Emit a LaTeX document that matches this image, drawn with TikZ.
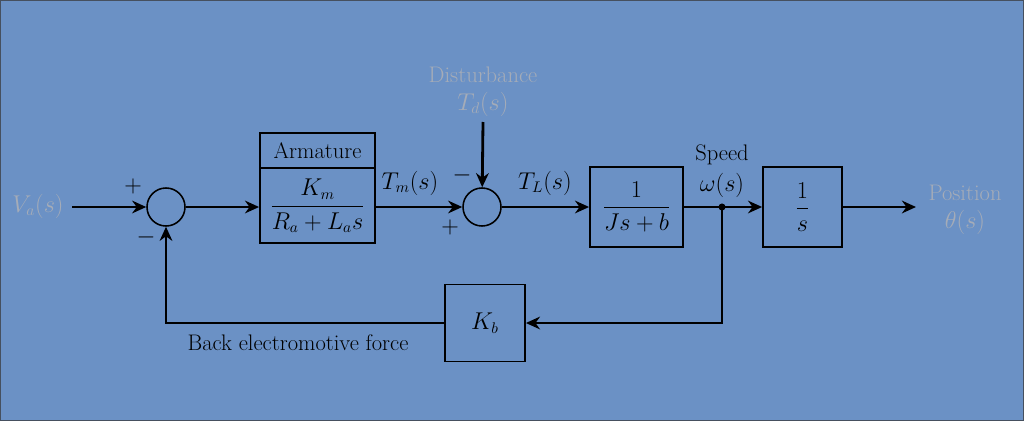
\documentclass[tikz,border=0pt]{standalone}
\usepackage{amsmath}
\usetikzlibrary{arrows.meta}
\definecolor{bg}{RGB}{107,145,197}
\definecolor{gtext}{RGB}{165,172,184}
\definecolor{frame}{RGB}{70,80,95}
\begin{document}
\begin{tikzpicture}[x=0.025cm,y=-0.025cm,
  sig/.style={line width=2pt,-{Stealth[length=10pt,width=9pt]}},
  blk/.style={draw,line width=1.3pt,inner sep=0pt},
  sum/.style={draw,circle,line width=1.1pt,minimum size=0.95cm,inner sep=0pt},
  lab/.style={font=\fontsize{16}{19}\selectfont},
  glab/.style={font=\fontsize{16}{19}\selectfont,text=gtext}]
\useasboundingbox (0,0) rectangle (1024,421);
\fill[bg,draw=frame,line width=1pt] (0.5,0.5) rectangle (1023.5,420.5);
% nodes
\node[glab] (va) at (38,206) {$V_a(s)$};
\node[sum] (s1) at (166,207) {};
\node[blk,minimum width=2.875cm,minimum height=2.75cm] (arm) at (317.5,188) {};
\node[blk,minimum width=2.875cm,minimum height=0.875cm,anchor=north] (armh) at (arm.north) {};
\node[lab] at (armh) {Armature};
\node[lab] at (317.5,206) {$\dfrac{K_m}{R_a+L_as}$};
\node[sum] (s2) at (482,207) {};
\node[glab] (dist) at (483,75) {Disturbance};
\node[glab] (td) at (483,104) {$T_d(s)$};
\coordinate (tdtop) at (483,122);
\node[blk,minimum width=2.325cm,minimum height=2cm] (g1) at (636.5,207) {\fontsize{16}{19}\selectfont$\dfrac{1}{Js+b}$};
\node[blk,minimum width=1.975cm,minimum height=2cm] (g2) at (802.5,207) {\fontsize{16}{19}\selectfont$\dfrac{1}{s}$};
\coordinate (br) at (722,207);
\fill (br) circle (2.5pt);
\coordinate (out) at (916,207);
\node[glab] at (965,193) {Position};
\node[glab] at (965,222) {$\theta(s)$};
\node[blk,minimum width=2cm,minimum height=1.925cm] (kb) at (485,323) {\fontsize{16}{19}\selectfont$K_b$};
\coordinate (c1) at (722,323);
\coordinate (c2) at (166,323);
\coordinate (ain) at (arm.west |- s1);
\coordinate (aout) at (arm.east |- s1);
% labels
\node[lab] at (410,183) {$T_m(s)$};
\node[lab] at (545,183) {$T_L(s)$};
\node[lab] at (722,155) {Speed};
\node[lab] at (722,185) {$\omega(s)$};
\node[lab] at (298,343) {Back electromotive force};
\node[lab] at (133,186) {$+$};
\node[lab] at (146,237) {$-$};
\node[lab] at (462,175) {$-$};
\node[lab] at (450,227) {$+$};
% connectors
\draw[sig] (72,207) -- (s1);
\draw[sig] (s1) -- (ain);
\draw[sig] (aout) -- (s2);
\draw[sig] (tdtop) -- (s2);
\draw[sig] (s2) -- (g1);
\draw[sig] (g1) -- (g2);
\draw[sig] (g2) -- (out);
\draw[sig] (br) -- (c1) -- (kb);
\draw[sig] (kb) -- (c2) -- (s1);
\end{tikzpicture}
\end{document}
